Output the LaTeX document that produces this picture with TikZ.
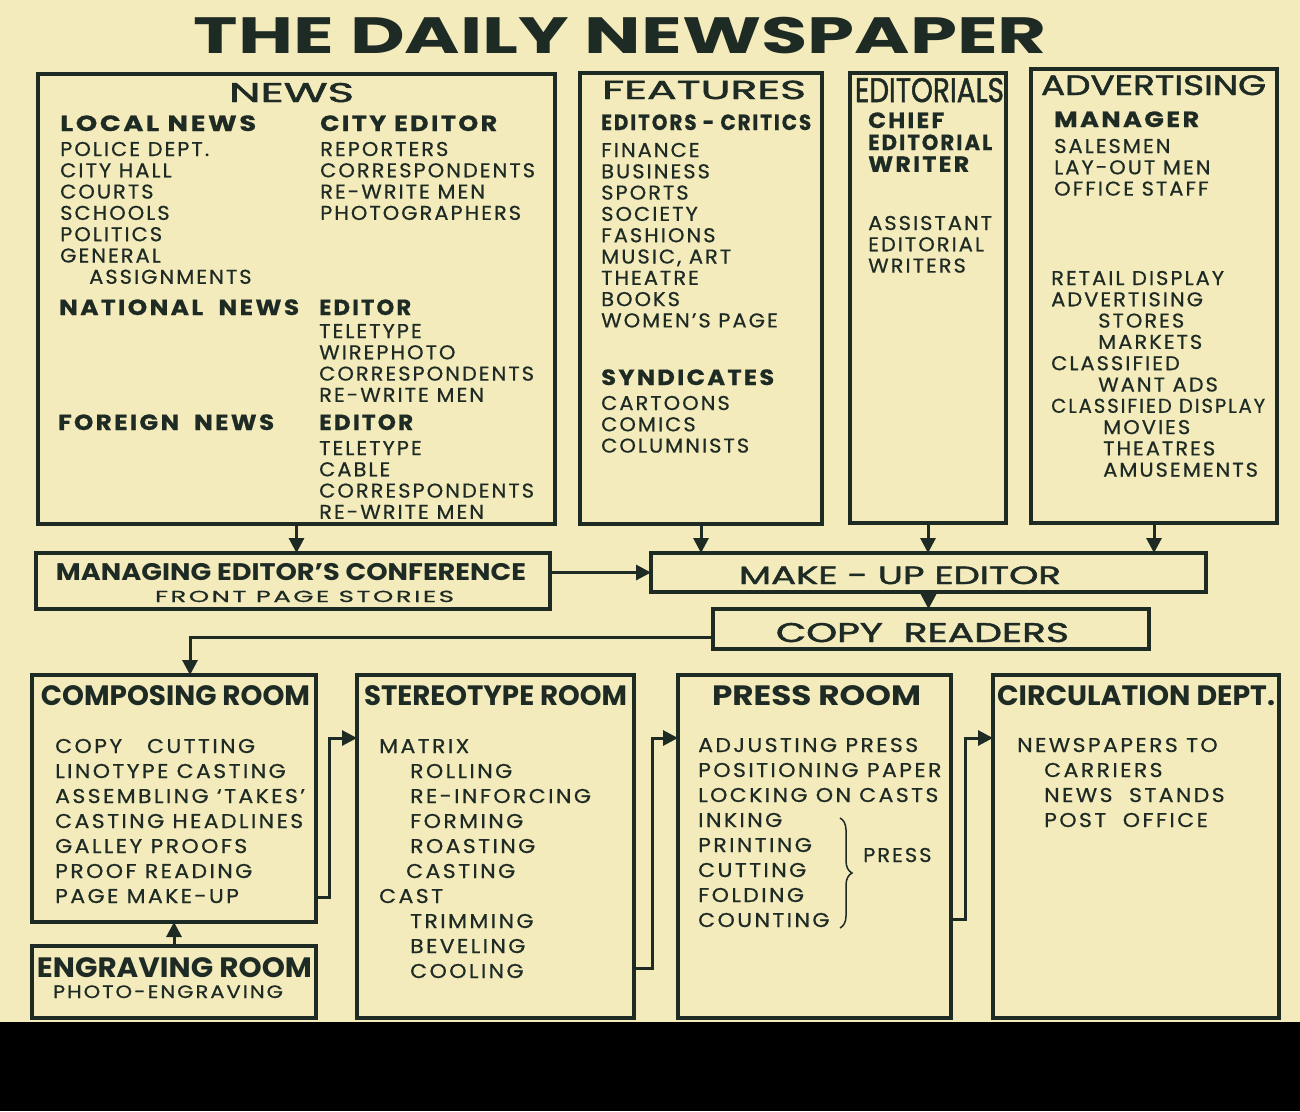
\documentclass[tikz,border=0pt]{standalone}
\usepackage{fontspec}
\setmainfont{Poppins}
\newfontfamily\letterfont[Ligatures=TeX, LetterSpace=10, FakeStretch=1.05, FakeBold=0.6]{Poppins}
\newfontfamily\roomfont[Ligatures=TeX, LetterSpace=12, FakeStretch=1.1, FakeBold=0.6]{Poppins}
\newfontfamily\medfont[Ligatures=TeX, FakeBold=1.6]{Poppins}
\usetikzlibrary{arrows.meta,decorations.pathreplacing}

\definecolor{paper}{RGB}{243,235,188}
\definecolor{ink}{RGB}{30,42,36}

\newcommand{\hfit}[2]{\resizebox{#1}{\height}{#2}}
\newcommand{\col}[1]{\begin{tabular}[t]{@{}l@{}}#1\end{tabular}}
\newcommand{\sub}[2]{\hfit{#1}{\fontsize{22}{21.3}\selectfont\bfseries #2}}

\tikzset{
  box/.style={draw=ink, line width=3.5pt, anchor=north west, inner sep=0pt, outer sep=0pt},
  head/.style={anchor=base, inner sep=0pt, text=ink},
  item/.style={anchor=base west, inner sep=0pt, text=ink, font=\letterfont\fontsize{20}{21.3}\selectfont},
  room/.style={item, font=\roomfont\fontsize{20}{25}\selectfont},
  arr/.style={draw=ink, line width=3pt, -{Triangle[width=15pt,length=15pt]}},
}

\begin{document}
\begin{tikzpicture}[x=1pt, y=-1pt]
\useasboundingbox (0,0) rectangle (1300,1111);
\fill[paper] (0,0) rectangle (1300,1022);
\fill[black] (0,1022) rectangle (1300,1111);

\node[head, font=\fontsize{51}{51}\selectfont\bfseries] (Title) at (620.5,53) {\hfit{853pt}{THE DAILY NEWSPAPER}};

% upper row
\node[box, minimum width=517pt, minimum height=450pt] (News) at (38,74) {};
\node[box, minimum width=242pt, minimum height=451pt] (Features) at (580,73) {};
\node[box, minimum width=156pt, minimum height=450pt] (Editorials) at (850,73) {};
\node[box, minimum width=246pt, minimum height=454pt] (Advertising) at (1031,69) {};

\node[head, font=\medfont\fontsize{27}{27}\selectfont] (NewsHead) at (291.5,102) {\hfit{125pt}{NEWS}};
\node[item] (NewsLocal) at (60,131) {\col{\sub{196pt}{LOCAL NEWS}\\[3.7pt] POLICE DEPT.\\ CITY HALL\\ COURTS\\ SCHOOLS\\ POLITICS\\ GENERAL\\ \hspace*{29pt}ASSIGNMENTS}};
\node[item] (NewsCity) at (320,131) {\col{\sub{177pt}{CITY EDITOR}\\[3.7pt] REPORTERS\\ CORRESPONDENTS\\ RE-WRITE MEN\\ PHOTOGRAPHERS}};
\node[item] (NewsNational) at (59,315) {\sub{240pt}{NATIONAL\ \ NEWS}};
\node[item] (NewsNationalEd) at (319,315) {\col{\sub{92pt}{EDITOR}\\[1.7pt] TELETYPE\\ WIREPHOTO\\ CORRESPONDENTS\\ RE-WRITE MEN}};
\node[item] (NewsForeign) at (58,430) {\sub{216pt}{FOREIGN\ \ NEWS}};
\node[item] (NewsForeignEd) at (319,430) {\col{\sub{94pt}{EDITOR}\\[3.7pt] TELETYPE\\ CABLE\\ CORRESPONDENTS\\ RE-WRITE MEN}};

\node[head, font=\medfont\fontsize{26}{26}\selectfont] (FeaturesHead) at (704,99) {\hfit{204pt}{FEATURES}};
\node[item] (FeatCritics) at (601,130) {\col{\sub{210pt}{EDITORS - CRITICS}\\[5.7pt] FINANCE\\ BUSINESS\\ SPORTS\\ SOCIETY\\ FASHIONS\\ MUSIC, ART\\ THEATRE\\ BOOKS\\ WOMEN'S PAGE}};
\node[item] (FeatSynd) at (601,385) {\col{\sub{173pt}{SYNDICATES}\\[3.7pt] CARTOONS\\ COMICS\\ COLUMNISTS}};

\node[head, font=\medfont\fontsize{34}{34}\selectfont] (EditorialsHead) at (929.5,102) {\hfit{149pt}{EDITORIALS}};
\node[item] (EdChief) at (868,128) {\col{\sub{76pt}{CHIEF}\\ \sub{124pt}{EDITORIAL}\\ \sub{101pt}{WRITER}}};
\node[item] (EdAssist) at (868,230) {\col{ASSISTANT\\ EDITORIAL\\ WRITERS}};

\node[head, font=\medfont\fontsize{28}{28}\selectfont] (AdvertisingHead) at (1153.5,95) {\hfit{225pt}{ADVERTISING}};
\node[item] (AdManager) at (1054,127) {\col{\sub{145pt}{MANAGER}\\[4.7pt] SALESMEN\\ LAY-OUT MEN\\ OFFICE STAFF}};
\node[item] (AdRetail) at (1051,285) {\col{RETAIL DISPLAY\\ ADVERTISING\\ \hspace*{47pt}STORES\\ \hspace*{47pt}MARKETS\\ CLASSIFIED\\ \hspace*{47pt}WANT ADS\\ \hfit{214pt}{CLASSIFIED DISPLAY}\\ \hspace*{52pt}MOVIES\\ \hspace*{52pt}THEATRES\\ \hspace*{52pt}AMUSEMENTS}};

% middle row
\node[box, minimum width=514pt, minimum height=56pt] (Conference) at (36,553) {};
\node[box, minimum width=555pt, minimum height=39pt] (MakeUp) at (651,553) {};
\node[box, minimum width=436pt, minimum height=40pt] (CopyReaders) at (713,609) {};

\node[head, font=\fontsize{24}{24}\selectfont\bfseries] (ConferenceHead) at (291,580) {\hfit{470pt}{MANAGING EDITOR'S CONFERENCE}};
\node[head, font=\letterfont\fontsize{16}{16}\selectfont] (ConferenceSub) at (304.5,602) {\hfit{299pt}{FRONT PAGE STORIES}};
\node[head, font=\medfont\fontsize{25}{25}\selectfont] (MakeUpHead) at (900,584) {\hfit{322pt}{MAKE - UP EDITOR}};
\node[head, font=\medfont\fontsize{27}{27}\selectfont] (CopyReadersHead) at (922.5,642) {\hfit{293pt}{COPY\ \ READERS}};

% lower row
\node[box, minimum width=284pt, minimum height=247pt] (Composing) at (32,675) {};
\node[box, minimum width=284pt, minimum height=72pt] (Engraving) at (32,946) {};
\node[box, minimum width=277pt, minimum height=343pt] (Stereotype) at (357,675) {};
\node[box, minimum width=273pt, minimum height=343pt] (PressRoom) at (678,675) {};
\node[box, minimum width=286pt, minimum height=343pt] (Circulation) at (993,675) {};

\node[head, font=\fontsize{28}{28}\selectfont\bfseries] (ComposingHead) at (175.5,705) {\hfit{269pt}{COMPOSING\ ROOM}};
\node[room] (ComposingList) at (55,753) {\col{COPY\ \ \ CUTTING\\ LINOTYPE CASTING\\ ASSEMBLING `TAKES'\\ CASTING HEADLINES\\ GALLEY PROOFS\\ PROOF READING\\ PAGE MAKE-UP}};
\node[head, font=\fontsize{28}{28}\selectfont\bfseries] (EngravingHead) at (174.5,977) {\hfit{275pt}{ENGRAVING\ ROOM}};
\node[head, font=\letterfont\fontsize{18}{18}\selectfont] (EngravingSub) at (168,998) {\hfit{230pt}{PHOTO-ENGRAVING}};

\node[head, font=\fontsize{28}{28}\selectfont\bfseries] (StereotypeHead) at (495.5,705) {\hfit{263pt}{STEREOTYPE ROOM}};
\node[room] (StereotypeList) at (379,753) {\col{MATRIX\\ \hspace*{31pt}ROLLING\\ \hspace*{31pt}RE-INFORCING\\ \hspace*{31pt}FORMING\\ \hspace*{31pt}ROASTING\\ \hspace*{27pt}CASTING\\ CAST\\ \hspace*{31pt}TRIMMING\\ \hspace*{31pt}BEVELING\\ \hspace*{31pt}COOLING}};

\node[head, font=\fontsize{28}{28}\selectfont\bfseries] (PressHead) at (816.5,705) {\hfit{209pt}{PRESS ROOM}};
\node[room] (PressList) at (698,752) {\col{ADJUSTING PRESS\\ POSITIONING PAPER\\ LOCKING ON CASTS\\ INKING\\ PRINTING\\ CUTTING\\ FOLDING\\ COUNTING}};
\node[item] (PressLabel) at (863,862) {PRESS};
\draw[ink, line width=1.5pt, decorate, decoration={brace, amplitude=12pt}] (840,818) -- (840,928);

\node[head, font=\fontsize{28}{28}\selectfont\bfseries] (CirculationHead) at (1136,705) {\hfit{278pt}{CIRCULATION DEPT.}};
\node[room] (CirculationList) at (1017,752) {\col{NEWSPAPERS TO\\ \hspace*{27pt}CARRIERS\\ \hspace*{27pt}NEWS\ \ STANDS\\ \hspace*{27pt}POST\ \ OFFICE}};

% connectors
\coordinate (InRow) at (0,738);
\coordinate (OutA) at (329,897);
\coordinate (OutB) at (652,968);
\coordinate (OutC) at (965,919);

\draw[arr] (News.south) -- (News.south |- Conference.north);
\draw[arr] (Features.south) -- (Features.south |- MakeUp.north);
\draw[arr] (Editorials.south) -- (Editorials.south |- MakeUp.north);
\draw[arr] (Advertising.south) -- (Advertising.south |- MakeUp.north);
\draw[arr] (Conference.east |- MakeUp.west) -- (MakeUp.west);
\draw[arr] (MakeUp.south) -- (MakeUp.south |- CopyReaders.north);
\draw[arr] ([yshift=-8pt]CopyReaders.west) -| ([xshift=16pt]Composing.north);
\draw[arr] (Engraving.north) -- (Composing.south);
\draw[arr] (Composing.east |- OutA) -- (OutA) |- (Stereotype.west |- InRow);
\draw[arr] (Stereotype.east |- OutB) -- (OutB) |- (PressRoom.west |- InRow);
\draw[arr] (PressRoom.east |- OutC) -- (OutC) |- (Circulation.west |- InRow);

\end{tikzpicture}
\end{document}
